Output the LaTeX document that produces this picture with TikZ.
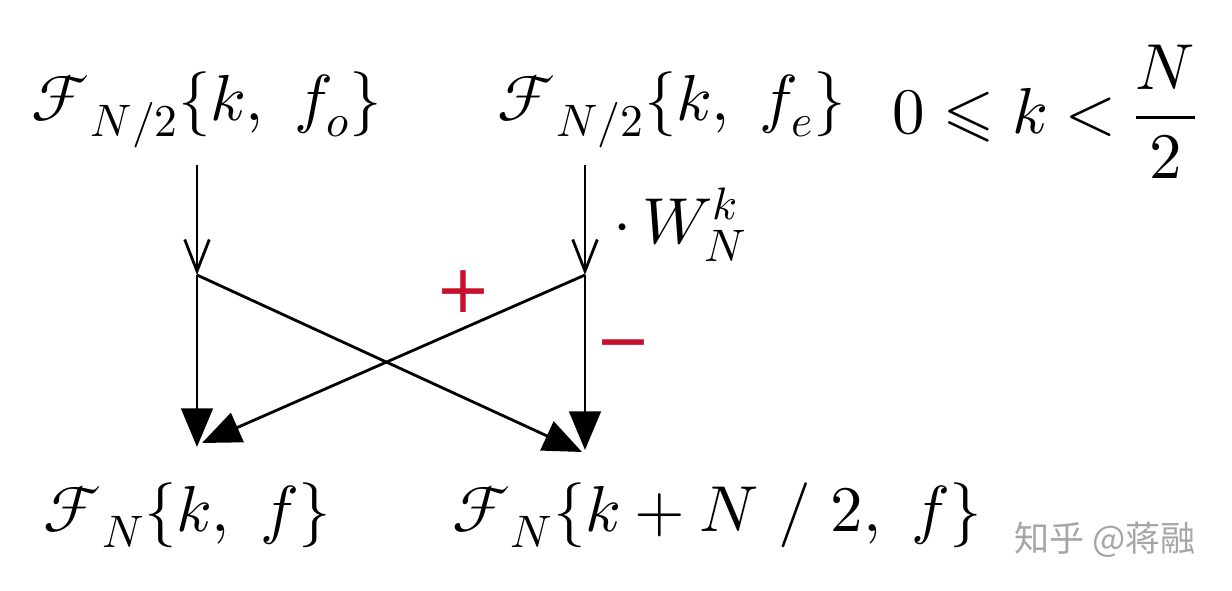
\documentclass[tikz,border=0pt]{standalone}
\usepackage{amsmath}
\usepackage{unicode-math}
\setmathfont{Latin Modern Math}
\newfontfamily\cjk{Noto Sans CJK SC}
\newfontfamily\sgnfont{DejaVu Sans}
\usetikzlibrary{arrows.meta}
\definecolor{sred}{RGB}{200,16,46}
\begin{document}
\begin{tikzpicture}[x=0.02cm,y=-0.02cm,
  lab/.style={inner sep=0pt,font=\fontsize{37}{44}\selectfont},
  sgn/.style={inner sep=0pt,text=sred,font=\sgnfont\fontsize{38}{38}\selectfont},
  ln/.style={line width=1.6pt},
  open/.style={ln,-{Straight Barb[length=18pt,width=14pt]}},
  fill/.style={ln,-{Triangle[length=22pt,width=18pt]}}]
\useasboundingbox (0,0) rectangle (1232,591);
\node[lab] (tl) at (207,110) {$\mathcal{F}_{N/2}\{k,\ f_o\}$};
\node[lab] (tr) at (672,110) {$\mathcal{F}_{N/2}\{k,\ f_e\}$};
\node[lab] (cond) at (1045,112) {$0\leqslant k<\dfrac{N}{2}$};
\node[lab] (w) at (680,225) {$\cdot\,W_N^k$};
\node[sgn] (plus) at (463,292) {+};
\node[sgn] (minus) at (623,352) {−};
\node[lab] (bl) at (187,515) {$\mathcal{F}_N\{k,\ f\}$};
\node[lab] (br) at (717,515) {$\mathcal{F}_N\{k+N\ /\ 2,\ f\}$};
\node[inner sep=0pt,text=gray!70,font=\cjk\fontsize{20}{24}\selectfont] (wm) at (1105,540) {知乎 @蒋融};
\coordinate (a1) at (197,165); \coordinate (b1) at (585,165);
\coordinate (ja) at (197,275); \coordinate (jb) at (585,275);
\coordinate (ea) at (197,447); \coordinate (eb) at (585,450);
\coordinate (ec) at (202,443); \coordinate (ed) at (582,452);
\draw[open] (a1) -- (ja);
\draw[open] (b1) -- (jb);
\draw[fill] (ja) -- (ea);
\draw[fill] (jb) -- (eb);
\draw[fill] (ja) -- (ed);
\draw[fill] (jb) -- (ec);
\end{tikzpicture}
\end{document}
